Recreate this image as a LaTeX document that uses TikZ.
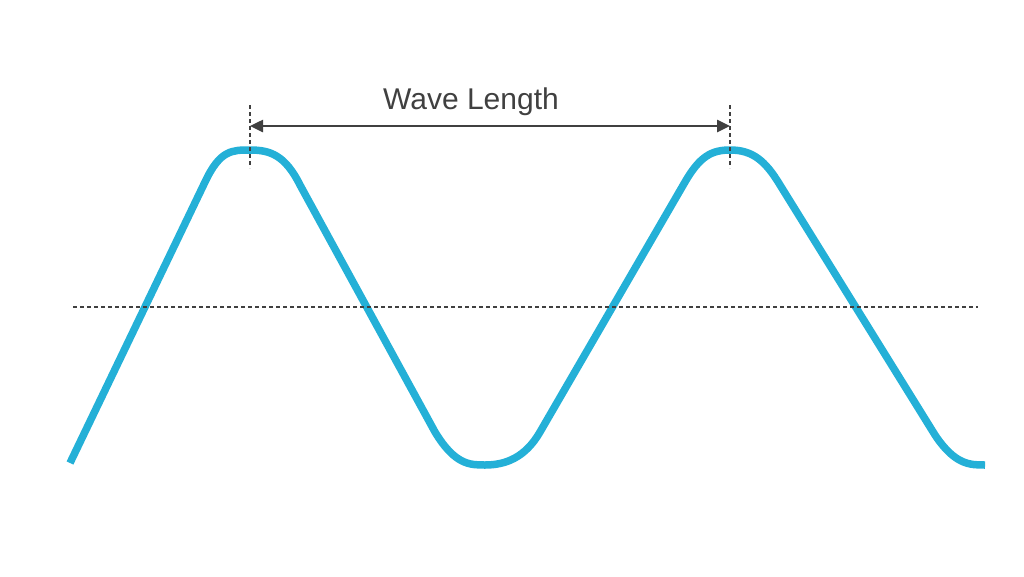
\documentclass[tikz,border=0pt]{standalone}
\usepackage{fontspec}
\setmainfont{Liberation Sans}
\usepackage{tikz}
\usetikzlibrary{arrows.meta}

\definecolor{waveblue}{HTML}{24B0D7}
\definecolor{ink}{HTML}{404040}

\begin{document}
\begin{tikzpicture}[x=1pt,y=-1pt,
  guide/.style={ink,line width=2.2pt,dash pattern=on 4pt off 3pt},
  wave/.style={waveblue,line width=7.5pt,line join=round}]
\useasboundingbox (0,0) rectangle (1024,576);
% the wave
\draw[wave] (70,463) -- (205,182)
  .. controls (220,150) and (232,150) .. (250,150)
  .. controls (270,150) and (285,155) .. (300,185) -- (435,432)
  .. controls (455,465) and (470,465) .. (485,465)
  .. controls (505,465) and (525,458) .. (540,432) -- (685,182)
  .. controls (700,156) and (712,150) .. (730,150)
  .. controls (752,150) and (765,160) .. (780,185) -- (935,435)
  .. controls (955,465) and (970,465) .. (985,465);
% zero line
\coordinate (zl) at (73,307);
\coordinate (zr) at (978,307);
\draw[guide] (zl) -- (zr);
% markers at both crests
\coordinate (pa) at (250,105);
\coordinate (pb) at (250,168);
\coordinate (qa) at (730,105);
\coordinate (qb) at (730,168);
\draw[guide] (pa) -- (pb);
\draw[guide] (qa) -- (qb);
\coordinate (la) at (250,126);
\coordinate (lb) at (730,126);
\draw[ink,line width=2.5pt,{Triangle[length=13pt,width=12pt]}-{Triangle[length=13pt,width=12pt]}] (la) -- (lb);
\node[ink,anchor=base,font=\fontsize{30}{35}\selectfont] (wl) at (471,109) {Wave Length};
\end{tikzpicture}
\end{document}
